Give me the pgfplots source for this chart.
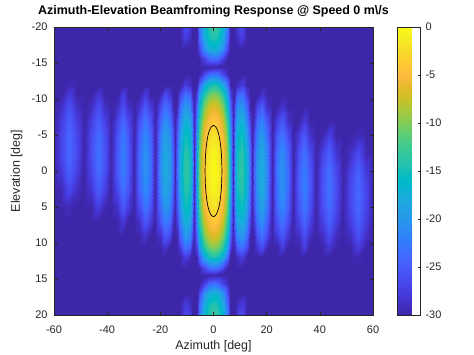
\documentclass[border=0pt]{standalone}
\usepackage{pgfplots}
\pgfplotsset{compat=1.18}
\usepackage{fontspec}
\setmainfont{Liberation Sans}
\definecolor{axgray}{rgb}{0.15,0.15,0.15}
\pgfplotsset{/pgf/number format/assume math mode=true}
\pgfplotsset{colormap={parula}{
rgb=(0.2422,0.1504,0.6603) rgb=(0.2504,0.1650,0.7076) rgb=(0.2578,0.1818,0.7511) rgb=(0.2647,0.1978,0.7952)
rgb=(0.2706,0.2147,0.8364) rgb=(0.2751,0.2342,0.8710) rgb=(0.2783,0.2559,0.8991) rgb=(0.2803,0.2782,0.9221)
rgb=(0.2813,0.3006,0.9414) rgb=(0.2810,0.3228,0.9579) rgb=(0.2795,0.3447,0.9717) rgb=(0.2760,0.3667,0.9829)
rgb=(0.2699,0.3892,0.9906) rgb=(0.2602,0.4123,0.9952) rgb=(0.2440,0.4358,0.9988) rgb=(0.2206,0.4603,0.9973)
rgb=(0.1963,0.4847,0.9892) rgb=(0.1834,0.5074,0.9798) rgb=(0.1786,0.5289,0.9682) rgb=(0.1764,0.5499,0.9520)
rgb=(0.1687,0.5703,0.9359) rgb=(0.1540,0.5902,0.9218) rgb=(0.1460,0.6091,0.9079) rgb=(0.1380,0.6276,0.8973)
rgb=(0.1248,0.6459,0.8883) rgb=(0.1113,0.6635,0.8763) rgb=(0.0952,0.6798,0.8598) rgb=(0.0689,0.6948,0.8394)
rgb=(0.0297,0.7082,0.8163) rgb=(0.0036,0.7203,0.7917) rgb=(0.0067,0.7312,0.7660) rgb=(0.0433,0.7411,0.7394)
rgb=(0.0964,0.7500,0.7120) rgb=(0.1408,0.7584,0.6842) rgb=(0.1717,0.7670,0.6554) rgb=(0.1938,0.7758,0.6251)
rgb=(0.2161,0.7843,0.5923) rgb=(0.2470,0.7918,0.5567) rgb=(0.2906,0.7973,0.5188) rgb=(0.3406,0.8008,0.4789)
rgb=(0.3909,0.8029,0.4354) rgb=(0.4456,0.8024,0.3909) rgb=(0.5044,0.7993,0.3480) rgb=(0.5616,0.7942,0.3045)
rgb=(0.6174,0.7876,0.2612) rgb=(0.6720,0.7793,0.2227) rgb=(0.7242,0.7698,0.1910) rgb=(0.7738,0.7598,0.1646)
rgb=(0.8203,0.7498,0.1535) rgb=(0.8634,0.7406,0.1596) rgb=(0.9035,0.7330,0.1774) rgb=(0.9393,0.7288,0.2100)
rgb=(0.9728,0.7298,0.2394) rgb=(0.9956,0.7434,0.2371) rgb=(0.9970,0.7659,0.2199) rgb=(0.9952,0.7893,0.2028)
rgb=(0.9892,0.8136,0.1885) rgb=(0.9786,0.8386,0.1766) rgb=(0.9676,0.8639,0.1643) rgb=(0.9610,0.8890,0.1537)
rgb=(0.9597,0.9135,0.1423) rgb=(0.9628,0.9373,0.1265) rgb=(0.9691,0.9606,0.1064) rgb=(0.9769,0.9839,0.0805)
}}
\begin{document}
\begin{tikzpicture}
\path[use as bounding box] (-54bp,-40bp) rectangle (420bp,315bp);
\begin{axis}[
  at={(0,0)}, anchor=south west,
  scale only axis, width=319bp, height=288bp,
  xmin=-60, xmax=60, ymin=-20, ymax=20, y dir=reverse,
  enlargelimits=false,
  colormap name=parula,
  point meta min=-30, point meta max=0,
  xtick={-60,-40,...,60}, ytick={-20,-15,...,20},
  tick align=inside, major tick length=3.5bp,
  tick style={axgray, line width=0.5bp},
  axis line style={axgray, line width=0.5bp},
  axis on top,
  ticklabel style={font=\fontsize{11}{13}\selectfont, text=axgray},
  xticklabel style={yshift=-7bp},
  yticklabel style={xshift=-3bp},
  title={Azimuth-Elevation Beamfroming Response @ Speed 0 m\textbackslash/s},
  title style={at={(axis description cs:0.5,1.0243)}, anchor=base, font=\bfseries\fontsize{12.5}{15}\selectfont},
  xlabel={Azimuth [deg]}, ylabel={Elevation [deg]},
  every axis x label/.style={at={(axis description cs:0.5,-0.1215)}, anchor=base, font=\fontsize{12.5}{15}\selectfont, text=axgray},
  every axis y label/.style={at={(axis description cs:-0.107,0.5)}, anchor=base, rotate=90, font=\fontsize{12.5}{15}\selectfont, text=axgray},
  colorbar,
  colorbar style={at={(parent axis.north east)}, anchor=north west, xshift=16bp,
    scale only axis, width=23bp, height=288bp,
    ytick={-30,-25,...,0}, ytick pos=right, yticklabel pos=right,
    tick align=inside, major tick length=3bp,
    tick style={axgray, line width=0.5bp},
    axis line style={axgray, line width=0.5bp},
    yticklabel style={font=\fontsize{11}{13}\selectfont, text=axgray, xshift=1.5bp},
    /pgf/number format/assume math mode=true},
]
\addplot[surf, shader=interp, mesh/cols=65, point meta=explicit] table[x=x, y=y, meta=c, row sep=\\] {
x y c\\
-60 -20 -30\\ -57.5 -20 -30\\ -54.3 -20 -30\\ -51.4 -20 -30\\ -48.6 -20 -30\\ -46 -20 -30\\ -43.4 -20 -30\\ -41 -20 -30\\ -38.7 -20 -30\\ -36.4 -20 -30\\ -34.2 -20 -30\\ -32.1 -20 -30\\ -30 -20 -30\\ -28 -20 -30\\ -25.9 -20 -30\\ -24 -20 -30\\ -22 -20 -30\\ -20.1 -20 -30\\ -18.2 -20 -30\\ -16.3 -20 -30\\ -15.4 -20 -30\\ -14.5 -20 -30\\ -13.6 -20 -30\\ -12.6 -20 -30\\ -10.8 -20 -26.3\\ -9 -20 -27.8\\ -8.1 -20 -30\\ -7.2 -20 -30\\ -6.3 -20 -30\\ -5.4 -20 -23.4\\ -3.6 -20 -16.9\\ -1.8 -20 -13.9\\ 0 -20 -13\\ 1.8 -20 -13.9\\ 3.6 -20 -16.9\\ 5.4 -20 -23.4\\ 6.3 -20 -30\\ 7.2 -20 -30\\ 8.1 -20 -30\\ 9 -20 -27.8\\ 10.8 -20 -26.3\\ 12.6 -20 -30\\ 13.6 -20 -30\\ 14.5 -20 -30\\ 15.4 -20 -30\\ 16.3 -20 -30\\ 18.2 -20 -30\\ 20.1 -20 -30\\ 22 -20 -30\\ 24 -20 -30\\ 25.9 -20 -30\\ 28 -20 -30\\ 30 -20 -30\\ 32.1 -20 -30\\ 34.2 -20 -30\\ 36.4 -20 -30\\ 38.7 -20 -30\\ 41 -20 -30\\ 43.4 -20 -30\\ 46 -20 -30\\ 48.6 -20 -30\\ 51.4 -20 -30\\ 54.3 -20 -30\\ 57.5 -20 -30\\ 60 -20 -30\\
-60 -18.5 -30\\ -57.5 -18.5 -30\\ -54.3 -18.5 -30\\ -51.4 -18.5 -30\\ -48.6 -18.5 -30\\ -46 -18.5 -30\\ -43.4 -18.5 -30\\ -41 -18.5 -30\\ -38.7 -18.5 -30\\ -36.4 -18.5 -30\\ -34.2 -18.5 -30\\ -32.1 -18.5 -30\\ -30 -18.5 -30\\ -28 -18.5 -30\\ -25.9 -18.5 -30\\ -24 -18.5 -30\\ -22 -18.5 -30\\ -20.1 -18.5 -30\\ -18.2 -18.5 -30\\ -16.3 -18.5 -30\\ -15.4 -18.5 -30\\ -14.5 -18.5 -30\\ -13.6 -18.5 -30\\ -12.6 -18.5 -30\\ -10.8 -18.5 -27.5\\ -9 -18.5 -29\\ -8.1 -18.5 -30\\ -7.2 -18.5 -30\\ -6.3 -18.5 -30\\ -5.4 -18.5 -24.6\\ -3.6 -18.5 -18.1\\ -1.8 -18.5 -15.1\\ 0 -18.5 -14.2\\ 1.8 -18.5 -15.1\\ 3.6 -18.5 -18.1\\ 5.4 -18.5 -24.6\\ 6.3 -18.5 -30\\ 7.2 -18.5 -30\\ 8.1 -18.5 -30\\ 9 -18.5 -29\\ 10.8 -18.5 -27.5\\ 12.6 -18.5 -30\\ 13.6 -18.5 -30\\ 14.5 -18.5 -30\\ 15.4 -18.5 -30\\ 16.3 -18.5 -30\\ 18.2 -18.5 -30\\ 20.1 -18.5 -30\\ 22 -18.5 -30\\ 24 -18.5 -30\\ 25.9 -18.5 -30\\ 28 -18.5 -30\\ 30 -18.5 -30\\ 32.1 -18.5 -30\\ 34.2 -18.5 -30\\ 36.4 -18.5 -30\\ 38.7 -18.5 -30\\ 41 -18.5 -30\\ 43.4 -18.5 -30\\ 46 -18.5 -30\\ 48.6 -18.5 -30\\ 51.4 -18.5 -30\\ 54.3 -18.5 -30\\ 57.5 -18.5 -30\\ 60 -18.5 -30\\
-60 -17 -30\\ -57.5 -17 -30\\ -54.3 -17 -30\\ -51.4 -17 -30\\ -48.6 -17 -30\\ -46 -17 -30\\ -43.4 -17 -30\\ -41 -17 -30\\ -38.7 -17 -30\\ -36.4 -17 -30\\ -34.2 -17 -30\\ -32.1 -17 -30\\ -30 -17 -30\\ -28 -17 -30\\ -25.9 -17 -30\\ -24 -17 -30\\ -22 -17 -30\\ -20.1 -17 -30\\ -18.2 -17 -30\\ -16.3 -17 -30\\ -15.4 -17 -30\\ -14.5 -17 -30\\ -13.6 -17 -30\\ -12.6 -17 -30\\ -10.8 -17 -30\\ -9 -17 -30\\ -8.1 -17 -30\\ -7.2 -17 -30\\ -6.3 -17 -30\\ -5.4 -17 -27.3\\ -3.6 -17 -20.8\\ -1.8 -17 -17.8\\ 0 -17 -16.9\\ 1.8 -17 -17.8\\ 3.6 -17 -20.8\\ 5.4 -17 -27.3\\ 6.3 -17 -30\\ 7.2 -17 -30\\ 8.1 -17 -30\\ 9 -17 -30\\ 10.8 -17 -30\\ 12.6 -17 -30\\ 13.6 -17 -30\\ 14.5 -17 -30\\ 15.4 -17 -30\\ 16.3 -17 -30\\ 18.2 -17 -30\\ 20.1 -17 -30\\ 22 -17 -30\\ 24 -17 -30\\ 25.9 -17 -30\\ 28 -17 -30\\ 30 -17 -30\\ 32.1 -17 -30\\ 34.2 -17 -30\\ 36.4 -17 -30\\ 38.7 -17 -30\\ 41 -17 -30\\ 43.4 -17 -30\\ 46 -17 -30\\ 48.6 -17 -30\\ 51.4 -17 -30\\ 54.3 -17 -30\\ 57.5 -17 -30\\ 60 -17 -30\\
-60 -15.5 -30\\ -57.5 -15.5 -30\\ -54.3 -15.5 -30\\ -51.4 -15.5 -30\\ -48.6 -15.5 -30\\ -46 -15.5 -30\\ -43.4 -15.5 -30\\ -41 -15.5 -30\\ -38.7 -15.5 -30\\ -36.4 -15.5 -30\\ -34.2 -15.5 -30\\ -32.1 -15.5 -30\\ -30 -15.5 -30\\ -28 -15.5 -30\\ -25.9 -15.5 -30\\ -24 -15.5 -30\\ -22 -15.5 -30\\ -20.1 -15.5 -30\\ -18.2 -15.5 -30\\ -16.3 -15.5 -30\\ -15.4 -15.5 -30\\ -14.5 -15.5 -30\\ -13.6 -15.5 -30\\ -12.6 -15.5 -30\\ -10.8 -15.5 -30\\ -9 -15.5 -30\\ -8.1 -15.5 -30\\ -7.2 -15.5 -30\\ -6.3 -15.5 -30\\ -5.4 -15.5 -30\\ -3.6 -15.5 -27.5\\ -1.8 -15.5 -24.5\\ 0 -15.5 -23.6\\ 1.8 -15.5 -24.5\\ 3.6 -15.5 -27.5\\ 5.4 -15.5 -30\\ 6.3 -15.5 -30\\ 7.2 -15.5 -30\\ 8.1 -15.5 -30\\ 9 -15.5 -30\\ 10.8 -15.5 -30\\ 12.6 -15.5 -30\\ 13.6 -15.5 -30\\ 14.5 -15.5 -30\\ 15.4 -15.5 -30\\ 16.3 -15.5 -30\\ 18.2 -15.5 -30\\ 20.1 -15.5 -30\\ 22 -15.5 -30\\ 24 -15.5 -30\\ 25.9 -15.5 -30\\ 28 -15.5 -30\\ 30 -15.5 -30\\ 32.1 -15.5 -30\\ 34.2 -15.5 -30\\ 36.4 -15.5 -30\\ 38.7 -15.5 -30\\ 41 -15.5 -30\\ 43.4 -15.5 -30\\ 46 -15.5 -30\\ 48.6 -15.5 -30\\ 51.4 -15.5 -30\\ 54.3 -15.5 -30\\ 57.5 -15.5 -30\\ 60 -15.5 -30\\
-60 -14.5 -30\\ -57.5 -14.5 -30\\ -54.3 -14.5 -30\\ -51.4 -14.5 -30\\ -48.6 -14.5 -30\\ -46 -14.5 -30\\ -43.4 -14.5 -30\\ -41 -14.5 -30\\ -38.7 -14.5 -30\\ -36.4 -14.5 -30\\ -34.2 -14.5 -30\\ -32.1 -14.5 -30\\ -30 -14.5 -30\\ -28 -14.5 -30\\ -25.9 -14.5 -30\\ -24 -14.5 -30\\ -22 -14.5 -30\\ -20.1 -14.5 -30\\ -18.2 -14.5 -30\\ -16.3 -14.5 -30\\ -15.4 -14.5 -30\\ -14.5 -14.5 -30\\ -13.6 -14.5 -30\\ -12.6 -14.5 -30\\ -10.8 -14.5 -30\\ -9 -14.5 -30\\ -8.1 -14.5 -30\\ -7.2 -14.5 -30\\ -6.3 -14.5 -30\\ -5.4 -14.5 -30\\ -3.6 -14.5 -30\\ -1.8 -14.5 -30\\ 0 -14.5 -30\\ 1.8 -14.5 -30\\ 3.6 -14.5 -30\\ 5.4 -14.5 -30\\ 6.3 -14.5 -30\\ 7.2 -14.5 -30\\ 8.1 -14.5 -30\\ 9 -14.5 -30\\ 10.8 -14.5 -30\\ 12.6 -14.5 -30\\ 13.6 -14.5 -30\\ 14.5 -14.5 -30\\ 15.4 -14.5 -30\\ 16.3 -14.5 -30\\ 18.2 -14.5 -30\\ 20.1 -14.5 -30\\ 22 -14.5 -30\\ 24 -14.5 -30\\ 25.9 -14.5 -30\\ 28 -14.5 -30\\ 30 -14.5 -30\\ 32.1 -14.5 -30\\ 34.2 -14.5 -30\\ 36.4 -14.5 -30\\ 38.7 -14.5 -30\\ 41 -14.5 -30\\ 43.4 -14.5 -30\\ 46 -14.5 -30\\ 48.6 -14.5 -30\\ 51.4 -14.5 -30\\ 54.3 -14.5 -30\\ 57.5 -14.5 -30\\ 60 -14.5 -30\\
-60 -13.5 -30\\ -57.5 -13.5 -30\\ -54.3 -13.5 -30\\ -51.4 -13.5 -30\\ -48.6 -13.5 -30\\ -46 -13.5 -30\\ -43.4 -13.5 -30\\ -41 -13.5 -30\\ -38.7 -13.5 -30\\ -36.4 -13.5 -30\\ -34.2 -13.5 -30\\ -32.1 -13.5 -30\\ -30 -13.5 -30\\ -28 -13.5 -30\\ -25.9 -13.5 -30\\ -24 -13.5 -30\\ -22 -13.5 -30\\ -20.1 -13.5 -30\\ -18.2 -13.5 -30\\ -16.3 -13.5 -30\\ -15.4 -13.5 -30\\ -14.5 -13.5 -30\\ -13.6 -13.5 -30\\ -12.6 -13.5 -30\\ -10.8 -13.5 -30\\ -9 -13.5 -30\\ -8.1 -13.5 -30\\ -7.2 -13.5 -30\\ -6.3 -13.5 -30\\ -5.4 -13.5 -30\\ -3.6 -13.5 -26.8\\ -1.8 -13.5 -23.8\\ 0 -13.5 -22.9\\ 1.8 -13.5 -23.8\\ 3.6 -13.5 -26.8\\ 5.4 -13.5 -30\\ 6.3 -13.5 -30\\ 7.2 -13.5 -30\\ 8.1 -13.5 -30\\ 9 -13.5 -30\\ 10.8 -13.5 -30\\ 12.6 -13.5 -30\\ 13.6 -13.5 -30\\ 14.5 -13.5 -30\\ 15.4 -13.5 -30\\ 16.3 -13.5 -30\\ 18.2 -13.5 -30\\ 20.1 -13.5 -30\\ 22 -13.5 -30\\ 24 -13.5 -30\\ 25.9 -13.5 -30\\ 28 -13.5 -30\\ 30 -13.5 -30\\ 32.1 -13.5 -30\\ 34.2 -13.5 -30\\ 36.4 -13.5 -30\\ 38.7 -13.5 -30\\ 41 -13.5 -30\\ 43.4 -13.5 -30\\ 46 -13.5 -30\\ 48.6 -13.5 -30\\ 51.4 -13.5 -30\\ 54.3 -13.5 -30\\ 57.5 -13.5 -30\\ 60 -13.5 -30\\
-60 -12 -30\\ -57.5 -12 -30\\ -54.3 -12 -29.5\\ -51.4 -12 -30\\ -48.6 -12 -30\\ -46 -12 -30\\ -43.4 -12 -30\\ -41 -12 -30\\ -38.7 -12 -30\\ -36.4 -12 -30\\ -34.2 -12 -30\\ -32.1 -12 -30\\ -30 -12 -30\\ -28 -12 -30\\ -25.9 -12 -30\\ -24 -12 -30\\ -22 -12 -30\\ -20.1 -12 -30\\ -18.2 -12 -30\\ -16.3 -12 -30\\ -15.4 -12 -30\\ -14.5 -12 -30\\ -13.6 -12 -30\\ -12.6 -12 -30\\ -10.8 -12 -27.5\\ -9 -12 -29\\ -8.1 -12 -30\\ -7.2 -12 -30\\ -6.3 -12 -30\\ -5.4 -12 -24.6\\ -3.6 -12 -18.1\\ -1.8 -12 -15.1\\ 0 -12 -14.2\\ 1.8 -12 -15.1\\ 3.6 -12 -18.1\\ 5.4 -12 -24.6\\ 6.3 -12 -30\\ 7.2 -12 -30\\ 8.1 -12 -30\\ 9 -12 -29\\ 10.8 -12 -27.5\\ 12.6 -12 -30\\ 13.6 -12 -30\\ 14.5 -12 -30\\ 15.4 -12 -30\\ 16.3 -12 -30\\ 18.2 -12 -30\\ 20.1 -12 -30\\ 22 -12 -30\\ 24 -12 -30\\ 25.9 -12 -30\\ 28 -12 -30\\ 30 -12 -30\\ 32.1 -12 -30\\ 34.2 -12 -30\\ 36.4 -12 -30\\ 38.7 -12 -30\\ 41 -12 -30\\ 43.4 -12 -30\\ 46 -12 -30\\ 48.6 -12 -30\\ 51.4 -12 -30\\ 54.3 -12 -30\\ 57.5 -12 -30\\ 60 -12 -30\\
-60 -10.5 -30\\ -57.5 -10.5 -30\\ -54.3 -10.5 -27.4\\ -51.4 -10.5 -30\\ -48.6 -10.5 -30\\ -46 -10.5 -30\\ -43.4 -10.5 -28\\ -41 -10.5 -30\\ -38.7 -10.5 -30\\ -36.4 -10.5 -30\\ -34.2 -10.5 -27.3\\ -32.1 -10.5 -30\\ -30 -10.5 -30\\ -28 -10.5 -30\\ -25.9 -10.5 -27.5\\ -24 -10.5 -30\\ -22 -10.5 -30\\ -20.1 -10.5 -29.5\\ -18.2 -10.5 -25.9\\ -16.3 -10.5 -28.3\\ -15.4 -10.5 -30\\ -14.5 -10.5 -30\\ -13.6 -10.5 -30\\ -12.6 -10.5 -26.6\\ -10.8 -10.5 -22.9\\ -9 -10.5 -24.4\\ -8.1 -10.5 -28.8\\ -7.2 -10.5 -30\\ -6.3 -10.5 -26.7\\ -5.4 -10.5 -20\\ -3.6 -10.5 -13.5\\ -1.8 -10.5 -10.5\\ 0 -10.5 -9.6\\ 1.8 -10.5 -10.5\\ 3.6 -10.5 -13.5\\ 5.4 -10.5 -20\\ 6.3 -10.5 -26.7\\ 7.2 -10.5 -30\\ 8.1 -10.5 -28.8\\ 9 -10.5 -24.4\\ 10.8 -10.5 -22.9\\ 12.6 -10.5 -27.8\\ 13.6 -10.5 -30\\ 14.5 -10.5 -30\\ 15.4 -10.5 -30\\ 16.3 -10.5 -30\\ 18.2 -10.5 -28.4\\ 20.1 -10.5 -30\\ 22 -10.5 -30\\ 24 -10.5 -30\\ 25.9 -10.5 -30\\ 28 -10.5 -30\\ 30 -10.5 -30\\ 32.1 -10.5 -30\\ 34.2 -10.5 -30\\ 36.4 -10.5 -30\\ 38.7 -10.5 -30\\ 41 -10.5 -30\\ 43.4 -10.5 -30\\ 46 -10.5 -30\\ 48.6 -10.5 -30\\ 51.4 -10.5 -30\\ 54.3 -10.5 -30\\ 57.5 -10.5 -30\\ 60 -10.5 -30\\
-60 -9 -30\\ -57.5 -9 -28.9\\ -54.3 -9 -25.9\\ -51.4 -9 -29\\ -48.6 -9 -30\\ -46 -9 -29.1\\ -43.4 -9 -26.1\\ -41 -9 -29.2\\ -38.7 -9 -30\\ -36.4 -9 -29.1\\ -34.2 -9 -25.9\\ -32.1 -9 -28.8\\ -30 -9 -30\\ -28 -9 -28.4\\ -25.9 -9 -25.1\\ -24 -9 -27.7\\ -22 -9 -30\\ -20.1 -9 -26.8\\ -18.2 -9 -23.2\\ -16.3 -9 -25.5\\ -15.4 -9 -30\\ -14.5 -9 -30\\ -13.6 -9 -29.6\\ -12.6 -9 -23.7\\ -10.8 -9 -19.8\\ -9 -9 -21.3\\ -8.1 -9 -25.7\\ -7.2 -9 -30\\ -6.3 -9 -23.6\\ -5.4 -9 -16.9\\ -3.6 -9 -10.4\\ -1.8 -9 -7.4\\ 0 -9 -6.5\\ 1.8 -9 -7.4\\ 3.6 -9 -10.4\\ 5.4 -9 -16.9\\ 6.3 -9 -23.6\\ 7.2 -9 -30\\ 8.1 -9 -25.7\\ 9 -9 -21.3\\ 10.8 -9 -19.8\\ 12.6 -9 -24.6\\ 13.6 -9 -30\\ 14.5 -9 -30\\ 15.4 -9 -30\\ 16.3 -9 -26.9\\ 18.2 -9 -25\\ 20.1 -9 -28.9\\ 22 -9 -30\\ 24 -9 -30\\ 25.9 -9 -28.5\\ 28 -9 -30\\ 30 -9 -30\\ 32.1 -9 -30\\ 34.2 -9 -30\\ 36.4 -9 -30\\ 38.7 -9 -30\\ 41 -9 -30\\ 43.4 -9 -30\\ 46 -9 -30\\ 48.6 -9 -30\\ 51.4 -9 -30\\ 54.3 -9 -30\\ 57.5 -9 -30\\ 60 -9 -30\\
-60 -7 -30\\ -57.5 -7 -27.6\\ -54.3 -7 -24.6\\ -51.4 -7 -27.6\\ -48.6 -7 -30\\ -46 -7 -27.5\\ -43.4 -7 -24.5\\ -41 -7 -27.4\\ -38.7 -7 -30\\ -36.4 -7 -27.1\\ -34.2 -7 -23.9\\ -32.1 -7 -26.7\\ -30 -7 -30\\ -28 -7 -26.1\\ -25.9 -7 -22.8\\ -24 -7 -25.4\\ -22 -7 -30\\ -20.1 -7 -24.3\\ -18.2 -7 -20.6\\ -16.3 -7 -22.9\\ -15.4 -7 -27.8\\ -14.5 -7 -30\\ -13.6 -7 -26.9\\ -12.6 -7 -21\\ -10.8 -7 -17\\ -9 -7 -18.5\\ -8.1 -7 -22.9\\ -7.2 -7 -30\\ -6.3 -7 -20.8\\ -5.4 -7 -14.1\\ -3.6 -7 -7.6\\ -1.8 -7 -4.6\\ 0 -7 -3.7\\ 1.8 -7 -4.6\\ 3.6 -7 -7.6\\ 5.4 -7 -14.1\\ 6.3 -7 -20.8\\ 7.2 -7 -30\\ 8.1 -7 -22.9\\ 9 -7 -18.5\\ 10.8 -7 -17\\ 12.6 -7 -21.6\\ 13.6 -7 -27.6\\ 14.5 -7 -30\\ 15.4 -7 -28.7\\ 16.3 -7 -23.9\\ 18.2 -7 -21.8\\ 20.1 -7 -25.7\\ 22 -7 -30\\ 24 -7 -27.3\\ 25.9 -7 -25.1\\ 28 -7 -28.8\\ 30 -7 -30\\ 32.1 -7 -30\\ 34.2 -7 -27.8\\ 36.4 -7 -30\\ 38.7 -7 -30\\ 41 -7 -30\\ 43.4 -7 -30\\ 46 -7 -30\\ 48.6 -7 -30\\ 51.4 -7 -30\\ 54.3 -7 -30\\ 57.5 -7 -30\\ 60 -7 -30\\
-60 -5 -30\\ -57.5 -5 -27\\ -54.3 -5 -23.9\\ -51.4 -5 -26.8\\ -48.6 -5 -30\\ -46 -5 -26.6\\ -43.4 -5 -23.5\\ -41 -5 -26.3\\ -38.7 -5 -30\\ -36.4 -5 -25.9\\ -34.2 -5 -22.6\\ -32.1 -5 -25.4\\ -30 -5 -30\\ -28 -5 -24.7\\ -25.9 -5 -21.3\\ -24 -5 -23.8\\ -22 -5 -30\\ -20.1 -5 -22.7\\ -18.2 -5 -19\\ -16.3 -5 -21.2\\ -15.4 -5 -26.1\\ -14.5 -5 -30\\ -13.6 -5 -25.1\\ -12.6 -5 -19.2\\ -10.8 -5 -15.1\\ -9 -5 -16.6\\ -8.1 -5 -21\\ -7.2 -5 -30\\ -6.3 -5 -18.9\\ -5.4 -5 -12.2\\ -3.6 -5 -5.7\\ -1.8 -5 -2.7\\ 0 -5 -1.8\\ 1.8 -5 -2.7\\ 3.6 -5 -5.7\\ 5.4 -5 -12.2\\ 6.3 -5 -18.9\\ 7.2 -5 -30\\ 8.1 -5 -21\\ 9 -5 -16.6\\ 10.8 -5 -15.1\\ 12.6 -5 -19.6\\ 13.6 -5 -25.6\\ 14.5 -5 -30\\ 15.4 -5 -26.7\\ 16.3 -5 -21.8\\ 18.2 -5 -19.7\\ 20.1 -5 -23.6\\ 22 -5 -30\\ 24 -5 -25.1\\ 25.9 -5 -22.8\\ 28 -5 -26.4\\ 30 -5 -30\\ 32.1 -5 -27.6\\ 34.2 -5 -25.1\\ 36.4 -5 -28.7\\ 38.7 -5 -30\\ 41 -5 -29.7\\ 43.4 -5 -27.2\\ 46 -5 -30\\ 48.6 -5 -30\\ 51.4 -5 -30\\ 54.3 -5 -29.3\\ 57.5 -5 -30\\ 60 -5 -30\\
-60 -2.5 -30\\ -57.5 -2.5 -26.9\\ -54.3 -2.5 -23.8\\ -51.4 -2.5 -26.6\\ -48.6 -2.5 -30\\ -46 -2.5 -26.2\\ -43.4 -2.5 -23\\ -41 -2.5 -25.8\\ -38.7 -2.5 -30\\ -36.4 -2.5 -25.2\\ -34.2 -2.5 -21.9\\ -32.1 -2.5 -24.6\\ -30 -2.5 -30\\ -28 -2.5 -23.8\\ -25.9 -2.5 -20.3\\ -24 -2.5 -22.8\\ -22 -2.5 -30\\ -20.1 -2.5 -21.6\\ -18.2 -2.5 -17.8\\ -16.3 -2.5 -20\\ -15.4 -2.5 -24.9\\ -14.5 -2.5 -30\\ -13.6 -2.5 -23.9\\ -12.6 -2.5 -18\\ -10.8 -2.5 -13.8\\ -9 -2.5 -15.2\\ -8.1 -2.5 -19.7\\ -7.2 -2.5 -30\\ -6.3 -2.5 -17.5\\ -5.4 -2.5 -10.9\\ -3.6 -2.5 -4.4\\ -1.8 -2.5 -1.4\\ 0 -2.5 -0.4\\ 1.8 -2.5 -1.4\\ 3.6 -2.5 -4.4\\ 5.4 -2.5 -10.9\\ 6.3 -2.5 -17.5\\ 7.2 -2.5 -30\\ 8.1 -2.5 -19.7\\ 9 -2.5 -15.2\\ 10.8 -2.5 -13.8\\ 12.6 -2.5 -18.2\\ 13.6 -2.5 -24.1\\ 14.5 -2.5 -30\\ 15.4 -2.5 -25.2\\ 16.3 -2.5 -20.3\\ 18.2 -2.5 -18.2\\ 20.1 -2.5 -22\\ 22 -2.5 -30\\ 24 -2.5 -23.4\\ 25.9 -2.5 -21\\ 28 -2.5 -24.6\\ 30 -2.5 -30\\ 32.1 -2.5 -25.6\\ 34.2 -2.5 -23.1\\ 36.4 -2.5 -26.5\\ 38.7 -2.5 -30\\ 41 -2.5 -27.4\\ 43.4 -2.5 -24.7\\ 46 -2.5 -28.2\\ 48.6 -2.5 -30\\ 51.4 -2.5 -28.9\\ 54.3 -2.5 -26.3\\ 57.5 -2.5 -29.6\\ 60 -2.5 -30\\
-60 0 -30\\ -57.5 0 -27.8\\ -54.3 0 -24.5\\ -51.4 0 -27.3\\ -48.6 0 -30\\ -46 0 -26.7\\ -43.4 0 -23.4\\ -41 0 -26.1\\ -38.7 0 -30\\ -36.4 0 -25.4\\ -34.2 0 -22.1\\ -32.1 0 -24.6\\ -30 0 -30\\ -28 0 -23.7\\ -25.9 0 -20.2\\ -24 0 -22.6\\ -22 0 -30\\ -20.1 0 -21.3\\ -18.2 0 -17.6\\ -16.3 0 -19.7\\ -15.4 0 -24.6\\ -14.5 0 -30\\ -13.6 0 -23.6\\ -12.6 0 -17.6\\ -10.8 0 -13.3\\ -9 0 -14.8\\ -8.1 0 -19.2\\ -7.2 0 -30\\ -6.3 0 -17.1\\ -5.4 0 -10.4\\ -3.6 0 -3.9\\ -1.8 0 -0.9\\ 0 0 0\\ 1.8 0 -0.9\\ 3.6 0 -3.9\\ 5.4 0 -10.4\\ 6.3 0 -17.1\\ 7.2 0 -30\\ 8.1 0 -19.2\\ 9 0 -14.8\\ 10.8 0 -13.3\\ 12.6 0 -17.6\\ 13.6 0 -23.6\\ 14.5 0 -30\\ 15.4 0 -24.6\\ 16.3 0 -19.7\\ 18.2 0 -17.6\\ 20.1 0 -21.3\\ 22 0 -30\\ 24 0 -22.6\\ 25.9 0 -20.2\\ 28 0 -23.7\\ 30 0 -30\\ 32.1 0 -24.6\\ 34.2 0 -22.1\\ 36.4 0 -25.4\\ 38.7 0 -30\\ 41 0 -26.1\\ 43.4 0 -23.4\\ 46 0 -26.7\\ 48.6 0 -30\\ 51.4 0 -27.3\\ 54.3 0 -24.5\\ 57.5 0 -27.8\\ 60 0 -30\\
-60 2.5 -30\\ -57.5 2.5 -29.6\\ -54.3 2.5 -26.3\\ -51.4 2.5 -28.9\\ -48.6 2.5 -30\\ -46 2.5 -28.2\\ -43.4 2.5 -24.7\\ -41 2.5 -27.4\\ -38.7 2.5 -30\\ -36.4 2.5 -26.5\\ -34.2 2.5 -23.1\\ -32.1 2.5 -25.6\\ -30 2.5 -30\\ -28 2.5 -24.6\\ -25.9 2.5 -21\\ -24 2.5 -23.4\\ -22 2.5 -30\\ -20.1 2.5 -22\\ -18.2 2.5 -18.2\\ -16.3 2.5 -20.3\\ -15.4 2.5 -25.2\\ -14.5 2.5 -30\\ -13.6 2.5 -24.1\\ -12.6 2.5 -18.2\\ -10.8 2.5 -13.8\\ -9 2.5 -15.2\\ -8.1 2.5 -19.7\\ -7.2 2.5 -30\\ -6.3 2.5 -17.5\\ -5.4 2.5 -10.9\\ -3.6 2.5 -4.4\\ -1.8 2.5 -1.4\\ 0 2.5 -0.4\\ 1.8 2.5 -1.4\\ 3.6 2.5 -4.4\\ 5.4 2.5 -10.9\\ 6.3 2.5 -17.5\\ 7.2 2.5 -30\\ 8.1 2.5 -19.7\\ 9 2.5 -15.2\\ 10.8 2.5 -13.8\\ 12.6 2.5 -18\\ 13.6 2.5 -23.9\\ 14.5 2.5 -30\\ 15.4 2.5 -24.9\\ 16.3 2.5 -20\\ 18.2 2.5 -17.8\\ 20.1 2.5 -21.6\\ 22 2.5 -30\\ 24 2.5 -22.8\\ 25.9 2.5 -20.3\\ 28 2.5 -23.8\\ 30 2.5 -30\\ 32.1 2.5 -24.6\\ 34.2 2.5 -21.9\\ 36.4 2.5 -25.2\\ 38.7 2.5 -30\\ 41 2.5 -25.8\\ 43.4 2.5 -23\\ 46 2.5 -26.2\\ 48.6 2.5 -30\\ 51.4 2.5 -26.6\\ 54.3 2.5 -23.8\\ 57.5 2.5 -26.9\\ 60 2.5 -30\\
-60 5 -30\\ -57.5 5 -30\\ -54.3 5 -29.3\\ -51.4 5 -30\\ -48.6 5 -30\\ -46 5 -30\\ -43.4 5 -27.2\\ -41 5 -29.7\\ -38.7 5 -30\\ -36.4 5 -28.7\\ -34.2 5 -25.1\\ -32.1 5 -27.6\\ -30 5 -30\\ -28 5 -26.4\\ -25.9 5 -22.8\\ -24 5 -25.1\\ -22 5 -30\\ -20.1 5 -23.6\\ -18.2 5 -19.7\\ -16.3 5 -21.8\\ -15.4 5 -26.7\\ -14.5 5 -30\\ -13.6 5 -25.6\\ -12.6 5 -19.6\\ -10.8 5 -15.1\\ -9 5 -16.6\\ -8.1 5 -21\\ -7.2 5 -30\\ -6.3 5 -18.9\\ -5.4 5 -12.2\\ -3.6 5 -5.7\\ -1.8 5 -2.7\\ 0 5 -1.8\\ 1.8 5 -2.7\\ 3.6 5 -5.7\\ 5.4 5 -12.2\\ 6.3 5 -18.9\\ 7.2 5 -30\\ 8.1 5 -21\\ 9 5 -16.6\\ 10.8 5 -15.1\\ 12.6 5 -19.2\\ 13.6 5 -25.1\\ 14.5 5 -30\\ 15.4 5 -26.1\\ 16.3 5 -21.2\\ 18.2 5 -19\\ 20.1 5 -22.7\\ 22 5 -30\\ 24 5 -23.8\\ 25.9 5 -21.3\\ 28 5 -24.7\\ 30 5 -30\\ 32.1 5 -25.4\\ 34.2 5 -22.6\\ 36.4 5 -25.9\\ 38.7 5 -30\\ 41 5 -26.3\\ 43.4 5 -23.5\\ 46 5 -26.6\\ 48.6 5 -30\\ 51.4 5 -26.8\\ 54.3 5 -23.9\\ 57.5 5 -27\\ 60 5 -30\\
-60 7 -30\\ -57.5 7 -30\\ -54.3 7 -30\\ -51.4 7 -30\\ -48.6 7 -30\\ -46 7 -30\\ -43.4 7 -30\\ -41 7 -30\\ -38.7 7 -30\\ -36.4 7 -30\\ -34.2 7 -27.8\\ -32.1 7 -30\\ -30 7 -30\\ -28 7 -28.8\\ -25.9 7 -25.1\\ -24 7 -27.3\\ -22 7 -30\\ -20.1 7 -25.7\\ -18.2 7 -21.8\\ -16.3 7 -23.9\\ -15.4 7 -28.7\\ -14.5 7 -30\\ -13.6 7 -27.6\\ -12.6 7 -21.6\\ -10.8 7 -17\\ -9 7 -18.5\\ -8.1 7 -22.9\\ -7.2 7 -30\\ -6.3 7 -20.8\\ -5.4 7 -14.1\\ -3.6 7 -7.6\\ -1.8 7 -4.6\\ 0 7 -3.7\\ 1.8 7 -4.6\\ 3.6 7 -7.6\\ 5.4 7 -14.1\\ 6.3 7 -20.8\\ 7.2 7 -30\\ 8.1 7 -22.9\\ 9 7 -18.5\\ 10.8 7 -17\\ 12.6 7 -21\\ 13.6 7 -26.9\\ 14.5 7 -30\\ 15.4 7 -27.8\\ 16.3 7 -22.9\\ 18.2 7 -20.6\\ 20.1 7 -24.3\\ 22 7 -30\\ 24 7 -25.4\\ 25.9 7 -22.8\\ 28 7 -26.1\\ 30 7 -30\\ 32.1 7 -26.7\\ 34.2 7 -23.9\\ 36.4 7 -27.1\\ 38.7 7 -30\\ 41 7 -27.4\\ 43.4 7 -24.5\\ 46 7 -27.5\\ 48.6 7 -30\\ 51.4 7 -27.6\\ 54.3 7 -24.6\\ 57.5 7 -27.6\\ 60 7 -30\\
-60 9 -30\\ -57.5 9 -30\\ -54.3 9 -30\\ -51.4 9 -30\\ -48.6 9 -30\\ -46 9 -30\\ -43.4 9 -30\\ -41 9 -30\\ -38.7 9 -30\\ -36.4 9 -30\\ -34.2 9 -30\\ -32.1 9 -30\\ -30 9 -30\\ -28 9 -30\\ -25.9 9 -28.5\\ -24 9 -30\\ -22 9 -30\\ -20.1 9 -28.9\\ -18.2 9 -25\\ -16.3 9 -26.9\\ -15.4 9 -30\\ -14.5 9 -30\\ -13.6 9 -30\\ -12.6 9 -24.6\\ -10.8 9 -19.8\\ -9 9 -21.3\\ -8.1 9 -25.7\\ -7.2 9 -30\\ -6.3 9 -23.6\\ -5.4 9 -16.9\\ -3.6 9 -10.4\\ -1.8 9 -7.4\\ 0 9 -6.5\\ 1.8 9 -7.4\\ 3.6 9 -10.4\\ 5.4 9 -16.9\\ 6.3 9 -23.6\\ 7.2 9 -30\\ 8.1 9 -25.7\\ 9 9 -21.3\\ 10.8 9 -19.8\\ 12.6 9 -23.7\\ 13.6 9 -29.6\\ 14.5 9 -30\\ 15.4 9 -30\\ 16.3 9 -25.5\\ 18.2 9 -23.2\\ 20.1 9 -26.8\\ 22 9 -30\\ 24 9 -27.7\\ 25.9 9 -25.1\\ 28 9 -28.4\\ 30 9 -30\\ 32.1 9 -28.8\\ 34.2 9 -25.9\\ 36.4 9 -29.1\\ 38.7 9 -30\\ 41 9 -29.2\\ 43.4 9 -26.1\\ 46 9 -29.1\\ 48.6 9 -30\\ 51.4 9 -29\\ 54.3 9 -25.9\\ 57.5 9 -28.9\\ 60 9 -30\\
-60 10.5 -30\\ -57.5 10.5 -30\\ -54.3 10.5 -30\\ -51.4 10.5 -30\\ -48.6 10.5 -30\\ -46 10.5 -30\\ -43.4 10.5 -30\\ -41 10.5 -30\\ -38.7 10.5 -30\\ -36.4 10.5 -30\\ -34.2 10.5 -30\\ -32.1 10.5 -30\\ -30 10.5 -30\\ -28 10.5 -30\\ -25.9 10.5 -30\\ -24 10.5 -30\\ -22 10.5 -30\\ -20.1 10.5 -30\\ -18.2 10.5 -28.4\\ -16.3 10.5 -30\\ -15.4 10.5 -30\\ -14.5 10.5 -30\\ -13.6 10.5 -30\\ -12.6 10.5 -27.8\\ -10.8 10.5 -22.9\\ -9 10.5 -24.4\\ -8.1 10.5 -28.8\\ -7.2 10.5 -30\\ -6.3 10.5 -26.7\\ -5.4 10.5 -20\\ -3.6 10.5 -13.5\\ -1.8 10.5 -10.5\\ 0 10.5 -9.6\\ 1.8 10.5 -10.5\\ 3.6 10.5 -13.5\\ 5.4 10.5 -20\\ 6.3 10.5 -26.7\\ 7.2 10.5 -30\\ 8.1 10.5 -28.8\\ 9 10.5 -24.4\\ 10.8 10.5 -22.9\\ 12.6 10.5 -26.6\\ 13.6 10.5 -30\\ 14.5 10.5 -30\\ 15.4 10.5 -30\\ 16.3 10.5 -28.3\\ 18.2 10.5 -25.9\\ 20.1 10.5 -29.5\\ 22 10.5 -30\\ 24 10.5 -30\\ 25.9 10.5 -27.5\\ 28 10.5 -30\\ 30 10.5 -30\\ 32.1 10.5 -30\\ 34.2 10.5 -27.3\\ 36.4 10.5 -30\\ 38.7 10.5 -30\\ 41 10.5 -30\\ 43.4 10.5 -28\\ 46 10.5 -30\\ 48.6 10.5 -30\\ 51.4 10.5 -30\\ 54.3 10.5 -27.4\\ 57.5 10.5 -30\\ 60 10.5 -30\\
-60 12 -30\\ -57.5 12 -30\\ -54.3 12 -30\\ -51.4 12 -30\\ -48.6 12 -30\\ -46 12 -30\\ -43.4 12 -30\\ -41 12 -30\\ -38.7 12 -30\\ -36.4 12 -30\\ -34.2 12 -30\\ -32.1 12 -30\\ -30 12 -30\\ -28 12 -30\\ -25.9 12 -30\\ -24 12 -30\\ -22 12 -30\\ -20.1 12 -30\\ -18.2 12 -30\\ -16.3 12 -30\\ -15.4 12 -30\\ -14.5 12 -30\\ -13.6 12 -30\\ -12.6 12 -30\\ -10.8 12 -27.5\\ -9 12 -29\\ -8.1 12 -30\\ -7.2 12 -30\\ -6.3 12 -30\\ -5.4 12 -24.6\\ -3.6 12 -18.1\\ -1.8 12 -15.1\\ 0 12 -14.2\\ 1.8 12 -15.1\\ 3.6 12 -18.1\\ 5.4 12 -24.6\\ 6.3 12 -30\\ 7.2 12 -30\\ 8.1 12 -30\\ 9 12 -29\\ 10.8 12 -27.5\\ 12.6 12 -30\\ 13.6 12 -30\\ 14.5 12 -30\\ 15.4 12 -30\\ 16.3 12 -30\\ 18.2 12 -30\\ 20.1 12 -30\\ 22 12 -30\\ 24 12 -30\\ 25.9 12 -30\\ 28 12 -30\\ 30 12 -30\\ 32.1 12 -30\\ 34.2 12 -30\\ 36.4 12 -30\\ 38.7 12 -30\\ 41 12 -30\\ 43.4 12 -30\\ 46 12 -30\\ 48.6 12 -30\\ 51.4 12 -30\\ 54.3 12 -29.5\\ 57.5 12 -30\\ 60 12 -30\\
-60 13.5 -30\\ -57.5 13.5 -30\\ -54.3 13.5 -30\\ -51.4 13.5 -30\\ -48.6 13.5 -30\\ -46 13.5 -30\\ -43.4 13.5 -30\\ -41 13.5 -30\\ -38.7 13.5 -30\\ -36.4 13.5 -30\\ -34.2 13.5 -30\\ -32.1 13.5 -30\\ -30 13.5 -30\\ -28 13.5 -30\\ -25.9 13.5 -30\\ -24 13.5 -30\\ -22 13.5 -30\\ -20.1 13.5 -30\\ -18.2 13.5 -30\\ -16.3 13.5 -30\\ -15.4 13.5 -30\\ -14.5 13.5 -30\\ -13.6 13.5 -30\\ -12.6 13.5 -30\\ -10.8 13.5 -30\\ -9 13.5 -30\\ -8.1 13.5 -30\\ -7.2 13.5 -30\\ -6.3 13.5 -30\\ -5.4 13.5 -30\\ -3.6 13.5 -26.8\\ -1.8 13.5 -23.8\\ 0 13.5 -22.9\\ 1.8 13.5 -23.8\\ 3.6 13.5 -26.8\\ 5.4 13.5 -30\\ 6.3 13.5 -30\\ 7.2 13.5 -30\\ 8.1 13.5 -30\\ 9 13.5 -30\\ 10.8 13.5 -30\\ 12.6 13.5 -30\\ 13.6 13.5 -30\\ 14.5 13.5 -30\\ 15.4 13.5 -30\\ 16.3 13.5 -30\\ 18.2 13.5 -30\\ 20.1 13.5 -30\\ 22 13.5 -30\\ 24 13.5 -30\\ 25.9 13.5 -30\\ 28 13.5 -30\\ 30 13.5 -30\\ 32.1 13.5 -30\\ 34.2 13.5 -30\\ 36.4 13.5 -30\\ 38.7 13.5 -30\\ 41 13.5 -30\\ 43.4 13.5 -30\\ 46 13.5 -30\\ 48.6 13.5 -30\\ 51.4 13.5 -30\\ 54.3 13.5 -30\\ 57.5 13.5 -30\\ 60 13.5 -30\\
-60 14.5 -30\\ -57.5 14.5 -30\\ -54.3 14.5 -30\\ -51.4 14.5 -30\\ -48.6 14.5 -30\\ -46 14.5 -30\\ -43.4 14.5 -30\\ -41 14.5 -30\\ -38.7 14.5 -30\\ -36.4 14.5 -30\\ -34.2 14.5 -30\\ -32.1 14.5 -30\\ -30 14.5 -30\\ -28 14.5 -30\\ -25.9 14.5 -30\\ -24 14.5 -30\\ -22 14.5 -30\\ -20.1 14.5 -30\\ -18.2 14.5 -30\\ -16.3 14.5 -30\\ -15.4 14.5 -30\\ -14.5 14.5 -30\\ -13.6 14.5 -30\\ -12.6 14.5 -30\\ -10.8 14.5 -30\\ -9 14.5 -30\\ -8.1 14.5 -30\\ -7.2 14.5 -30\\ -6.3 14.5 -30\\ -5.4 14.5 -30\\ -3.6 14.5 -30\\ -1.8 14.5 -30\\ 0 14.5 -30\\ 1.8 14.5 -30\\ 3.6 14.5 -30\\ 5.4 14.5 -30\\ 6.3 14.5 -30\\ 7.2 14.5 -30\\ 8.1 14.5 -30\\ 9 14.5 -30\\ 10.8 14.5 -30\\ 12.6 14.5 -30\\ 13.6 14.5 -30\\ 14.5 14.5 -30\\ 15.4 14.5 -30\\ 16.3 14.5 -30\\ 18.2 14.5 -30\\ 20.1 14.5 -30\\ 22 14.5 -30\\ 24 14.5 -30\\ 25.9 14.5 -30\\ 28 14.5 -30\\ 30 14.5 -30\\ 32.1 14.5 -30\\ 34.2 14.5 -30\\ 36.4 14.5 -30\\ 38.7 14.5 -30\\ 41 14.5 -30\\ 43.4 14.5 -30\\ 46 14.5 -30\\ 48.6 14.5 -30\\ 51.4 14.5 -30\\ 54.3 14.5 -30\\ 57.5 14.5 -30\\ 60 14.5 -30\\
-60 15.5 -30\\ -57.5 15.5 -30\\ -54.3 15.5 -30\\ -51.4 15.5 -30\\ -48.6 15.5 -30\\ -46 15.5 -30\\ -43.4 15.5 -30\\ -41 15.5 -30\\ -38.7 15.5 -30\\ -36.4 15.5 -30\\ -34.2 15.5 -30\\ -32.1 15.5 -30\\ -30 15.5 -30\\ -28 15.5 -30\\ -25.9 15.5 -30\\ -24 15.5 -30\\ -22 15.5 -30\\ -20.1 15.5 -30\\ -18.2 15.5 -30\\ -16.3 15.5 -30\\ -15.4 15.5 -30\\ -14.5 15.5 -30\\ -13.6 15.5 -30\\ -12.6 15.5 -30\\ -10.8 15.5 -30\\ -9 15.5 -30\\ -8.1 15.5 -30\\ -7.2 15.5 -30\\ -6.3 15.5 -30\\ -5.4 15.5 -30\\ -3.6 15.5 -27.5\\ -1.8 15.5 -24.5\\ 0 15.5 -23.6\\ 1.8 15.5 -24.5\\ 3.6 15.5 -27.5\\ 5.4 15.5 -30\\ 6.3 15.5 -30\\ 7.2 15.5 -30\\ 8.1 15.5 -30\\ 9 15.5 -30\\ 10.8 15.5 -30\\ 12.6 15.5 -30\\ 13.6 15.5 -30\\ 14.5 15.5 -30\\ 15.4 15.5 -30\\ 16.3 15.5 -30\\ 18.2 15.5 -30\\ 20.1 15.5 -30\\ 22 15.5 -30\\ 24 15.5 -30\\ 25.9 15.5 -30\\ 28 15.5 -30\\ 30 15.5 -30\\ 32.1 15.5 -30\\ 34.2 15.5 -30\\ 36.4 15.5 -30\\ 38.7 15.5 -30\\ 41 15.5 -30\\ 43.4 15.5 -30\\ 46 15.5 -30\\ 48.6 15.5 -30\\ 51.4 15.5 -30\\ 54.3 15.5 -30\\ 57.5 15.5 -30\\ 60 15.5 -30\\
-60 17 -30\\ -57.5 17 -30\\ -54.3 17 -30\\ -51.4 17 -30\\ -48.6 17 -30\\ -46 17 -30\\ -43.4 17 -30\\ -41 17 -30\\ -38.7 17 -30\\ -36.4 17 -30\\ -34.2 17 -30\\ -32.1 17 -30\\ -30 17 -30\\ -28 17 -30\\ -25.9 17 -30\\ -24 17 -30\\ -22 17 -30\\ -20.1 17 -30\\ -18.2 17 -30\\ -16.3 17 -30\\ -15.4 17 -30\\ -14.5 17 -30\\ -13.6 17 -30\\ -12.6 17 -30\\ -10.8 17 -30\\ -9 17 -30\\ -8.1 17 -30\\ -7.2 17 -30\\ -6.3 17 -30\\ -5.4 17 -27.3\\ -3.6 17 -20.8\\ -1.8 17 -17.8\\ 0 17 -16.9\\ 1.8 17 -17.8\\ 3.6 17 -20.8\\ 5.4 17 -27.3\\ 6.3 17 -30\\ 7.2 17 -30\\ 8.1 17 -30\\ 9 17 -30\\ 10.8 17 -30\\ 12.6 17 -30\\ 13.6 17 -30\\ 14.5 17 -30\\ 15.4 17 -30\\ 16.3 17 -30\\ 18.2 17 -30\\ 20.1 17 -30\\ 22 17 -30\\ 24 17 -30\\ 25.9 17 -30\\ 28 17 -30\\ 30 17 -30\\ 32.1 17 -30\\ 34.2 17 -30\\ 36.4 17 -30\\ 38.7 17 -30\\ 41 17 -30\\ 43.4 17 -30\\ 46 17 -30\\ 48.6 17 -30\\ 51.4 17 -30\\ 54.3 17 -30\\ 57.5 17 -30\\ 60 17 -30\\
-60 18.5 -30\\ -57.5 18.5 -30\\ -54.3 18.5 -30\\ -51.4 18.5 -30\\ -48.6 18.5 -30\\ -46 18.5 -30\\ -43.4 18.5 -30\\ -41 18.5 -30\\ -38.7 18.5 -30\\ -36.4 18.5 -30\\ -34.2 18.5 -30\\ -32.1 18.5 -30\\ -30 18.5 -30\\ -28 18.5 -30\\ -25.9 18.5 -30\\ -24 18.5 -30\\ -22 18.5 -30\\ -20.1 18.5 -30\\ -18.2 18.5 -30\\ -16.3 18.5 -30\\ -15.4 18.5 -30\\ -14.5 18.5 -30\\ -13.6 18.5 -30\\ -12.6 18.5 -30\\ -10.8 18.5 -27.5\\ -9 18.5 -29\\ -8.1 18.5 -30\\ -7.2 18.5 -30\\ -6.3 18.5 -30\\ -5.4 18.5 -24.6\\ -3.6 18.5 -18.1\\ -1.8 18.5 -15.1\\ 0 18.5 -14.2\\ 1.8 18.5 -15.1\\ 3.6 18.5 -18.1\\ 5.4 18.5 -24.6\\ 6.3 18.5 -30\\ 7.2 18.5 -30\\ 8.1 18.5 -30\\ 9 18.5 -29\\ 10.8 18.5 -27.5\\ 12.6 18.5 -30\\ 13.6 18.5 -30\\ 14.5 18.5 -30\\ 15.4 18.5 -30\\ 16.3 18.5 -30\\ 18.2 18.5 -30\\ 20.1 18.5 -30\\ 22 18.5 -30\\ 24 18.5 -30\\ 25.9 18.5 -30\\ 28 18.5 -30\\ 30 18.5 -30\\ 32.1 18.5 -30\\ 34.2 18.5 -30\\ 36.4 18.5 -30\\ 38.7 18.5 -30\\ 41 18.5 -30\\ 43.4 18.5 -30\\ 46 18.5 -30\\ 48.6 18.5 -30\\ 51.4 18.5 -30\\ 54.3 18.5 -30\\ 57.5 18.5 -30\\ 60 18.5 -30\\
-60 20 -30\\ -57.5 20 -30\\ -54.3 20 -30\\ -51.4 20 -30\\ -48.6 20 -30\\ -46 20 -30\\ -43.4 20 -30\\ -41 20 -30\\ -38.7 20 -30\\ -36.4 20 -30\\ -34.2 20 -30\\ -32.1 20 -30\\ -30 20 -30\\ -28 20 -30\\ -25.9 20 -30\\ -24 20 -30\\ -22 20 -30\\ -20.1 20 -30\\ -18.2 20 -30\\ -16.3 20 -30\\ -15.4 20 -30\\ -14.5 20 -30\\ -13.6 20 -30\\ -12.6 20 -30\\ -10.8 20 -26.3\\ -9 20 -27.8\\ -8.1 20 -30\\ -7.2 20 -30\\ -6.3 20 -30\\ -5.4 20 -23.4\\ -3.6 20 -16.9\\ -1.8 20 -13.9\\ 0 20 -13\\ 1.8 20 -13.9\\ 3.6 20 -16.9\\ 5.4 20 -23.4\\ 6.3 20 -30\\ 7.2 20 -30\\ 8.1 20 -30\\ 9 20 -27.8\\ 10.8 20 -26.3\\ 12.6 20 -30\\ 13.6 20 -30\\ 14.5 20 -30\\ 15.4 20 -30\\ 16.3 20 -30\\ 18.2 20 -30\\ 20.1 20 -30\\ 22 20 -30\\ 24 20 -30\\ 25.9 20 -30\\ 28 20 -30\\ 30 20 -30\\ 32.1 20 -30\\ 34.2 20 -30\\ 36.4 20 -30\\ 38.7 20 -30\\ 41 20 -30\\ 43.4 20 -30\\ 46 20 -30\\ 48.6 20 -30\\ 51.4 20 -30\\ 54.3 20 -30\\ 57.5 20 -30\\ 60 20 -30\\
};
\addplot[black, line width=0.7bp, smooth] coordinates {
(0,-6.35) (0.94,-6.09) (1.33,-5.81) (1.87,-5.24) (2.28,-4.56) (2.62,-3.74) (2.91,-2.67) (3.04,-1.88) (3.12,-1.19) (3.17,0)
(3.12,1.19) (3.04,1.88) (2.91,2.67) (2.62,3.74) (2.28,4.56) (1.87,5.24) (1.33,5.81) (0.94,6.09) (0,6.35)
(-0.94,6.09) (-1.33,5.81) (-1.87,5.24) (-2.28,4.56) (-2.62,3.74) (-2.91,2.67) (-3.04,1.88) (-3.12,1.19) (-3.17,0)
(-3.12,-1.19) (-3.04,-1.88) (-2.91,-2.67) (-2.62,-3.74) (-2.28,-4.56) (-1.87,-5.24) (-1.33,-5.81) (-0.94,-6.09) (0,-6.35)
};
\end{axis}
\end{tikzpicture}
\end{document}
